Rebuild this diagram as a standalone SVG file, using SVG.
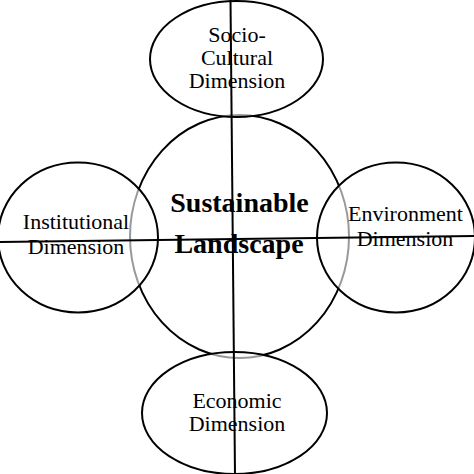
<svg xmlns="http://www.w3.org/2000/svg" width="474" height="474" viewBox="0 0 474 474">
<style>
.c{fill:none;stroke:#000;stroke-width:2}
.o{fill:#fff;fill-opacity:0.6;stroke:#000;stroke-width:2}
.t{font-family:"Liberation Serif","Times New Roman",serif;font-size:22px;fill:#000;text-anchor:middle}
.b{font-family:"Liberation Serif","Times New Roman",serif;font-size:28px;font-weight:bold;fill:#000;text-anchor:middle}
.l{stroke:#000;stroke-width:2}
</style>
<rect width="474" height="474" fill="#fff"/>
<g id="center">
<ellipse class="c" cx="239.5" cy="236.5" rx="109.5" ry="121.5"/>
</g>
<g id="socio">
<ellipse class="o" cx="236.5" cy="59" rx="86.5" ry="58"/>
</g>
<g id="institutional">
<ellipse class="o" cx="78" cy="237.5" rx="80" ry="75"/>
</g>
<g id="environment">
<ellipse class="o" cx="396" cy="237.5" rx="79" ry="75"/>
</g>
<g id="economic">
<ellipse class="o" cx="234.5" cy="413" rx="92.5" ry="61"/>
</g>
<g id="connectors">
<line class="l" x1="230.5" y1="0" x2="235" y2="474"/>
<line class="l" x1="0" y1="242" x2="474" y2="236"/>
</g>
<g id="labels">
<text class="t" x="237" y="42">Socio-</text>
<text class="t" x="237" y="65">Cultural</text>
<text class="t" x="237" y="88">Dimension</text>
<text class="t" x="76" y="229">Institutional</text>
<text class="t" x="76" y="253.5">Dimension</text>
<text class="t" x="405.5" y="221">Environment</text>
<text class="t" x="405" y="245.5">Dimension</text>
<text class="t" x="237" y="408">Economic</text>
<text class="t" x="237" y="431">Dimension</text>
<text class="b" x="239.5" y="212">Sustainable</text>
<text class="b" x="239" y="253">Landscape</text>
</g>
</svg>
